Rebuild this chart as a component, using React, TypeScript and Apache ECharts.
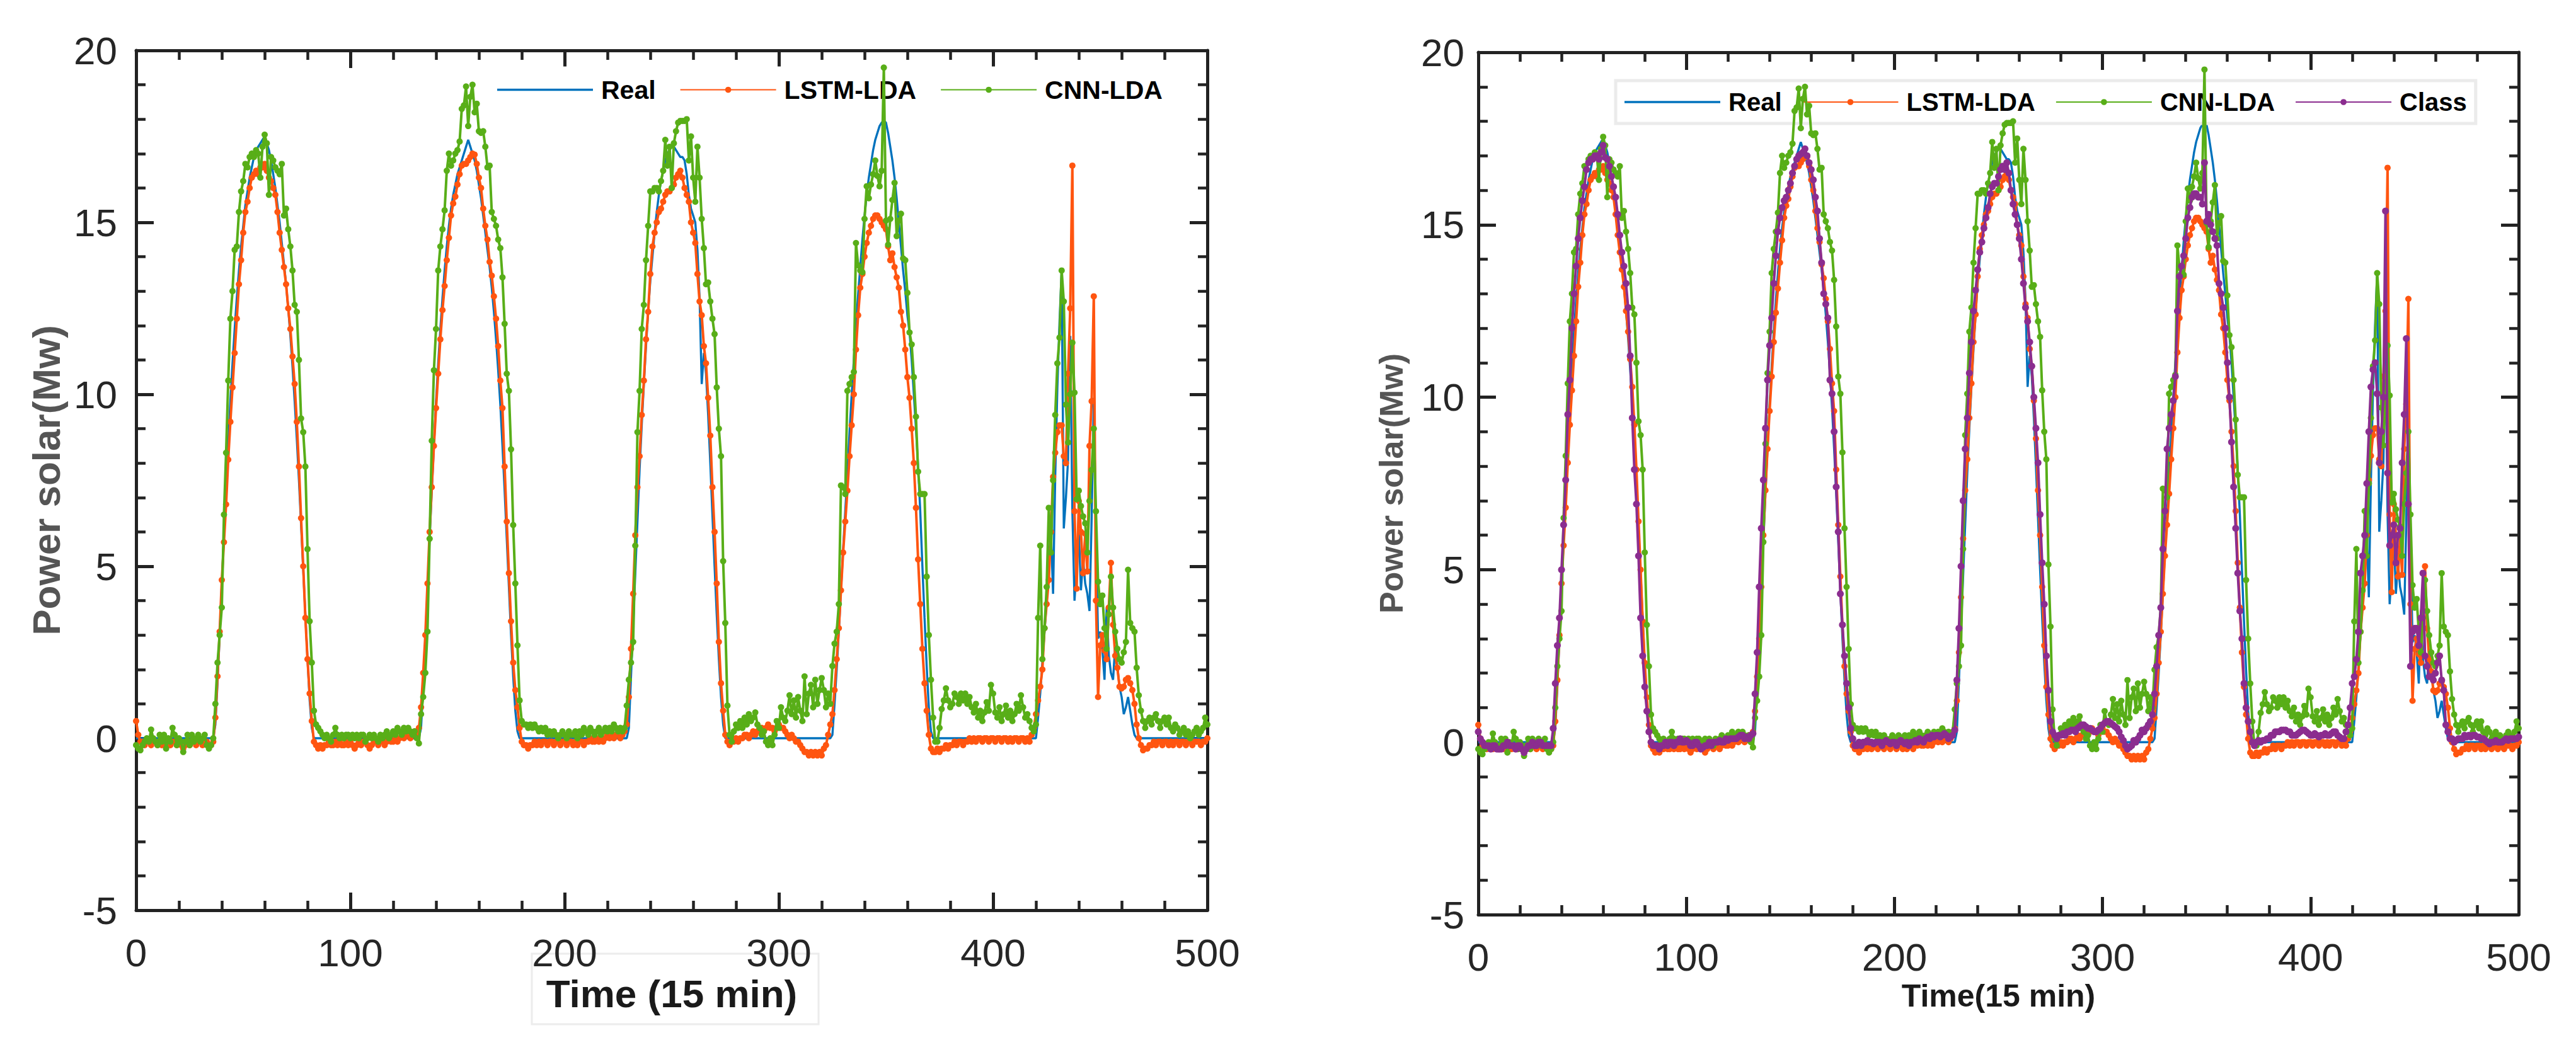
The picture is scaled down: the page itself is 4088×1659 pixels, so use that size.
import { useEffect, useRef } from "react";
import * as echarts from "echarts";

// x axis: time step (15 min), y axis: solar power (Mw)
const X_MIN = 0;
const X_MAX = 500;
const X_STEP = 100;
const Y_MIN = -5;
const Y_MAX = 20;
const Y_STEP = 5;

const seriesNames = ["Real", "LSTM-LDA", "CNN-LDA", "Class"];
const seriesColors = ["#0072BD", "#FF5510", "#58AE18", "#8B2D8F"];

// one value per time step, 0..500
const real = [
  0, 0, 0, 0, 0, 0, 0, 0, 0, 0,
  0, 0, 0, 0, 0, 0, 0, 0, 0, 0,
  0, 0, 0, 0, 0, 0, 0, 0, 0, 0,
  0, 0, 0, 0, 0, 0, 0, 0.4, 1.6, 3.0,
  4.5, 5.9, 7.3, 8.6, 9.8, 10.9, 11.9, 12.8, 13.6, 14.3,
  14.9, 15.5, 15.9, 16.3, 16.6, 16.9, 17.1, 17.2, 17.3, 17.4,
  17.5, 17.3, 17.1, 16.8, 16.4, 16.0, 15.5, 15.0, 14.4, 13.8,
  13.2, 12.5, 11.7, 10.8, 9.8, 8.7, 7.5, 6.2, 4.9, 3.6,
  2.3, 1.1, 0.3, 0, 0, 0, 0, 0, 0, 0,
  0, 0, 0, 0, 0, 0, 0, 0, 0, 0,
  0, 0, 0, 0, 0, 0, 0, 0, 0, 0,
  0, 0, 0, 0, 0, 0, 0, 0, 0, 0,
  0, 0, 0, 0, 0, 0, 0, 0, 0, 0,
  0, 0, 0, 0.3, 1.5, 2.9, 4.3, 5.8, 7.2, 8.5,
  9.8, 10.9, 11.9, 12.8, 13.6, 14.3, 14.9, 15.4, 15.8, 16.1,
  16.4, 16.6, 16.8, 17.0, 17.2, 17.4, 17.2, 17.0, 16.8, 16.5,
  16.1, 15.7, 15.2, 14.7, 14.2, 13.7, 13.1, 12.4, 11.6, 10.7,
  9.7, 8.5, 7.2, 5.8, 4.4, 3.0, 1.8, 0.8, 0.2, 0,
  0, 0, 0, 0, 0, 0, 0, 0, 0, 0,
  0, 0, 0, 0, 0, 0, 0, 0, 0, 0,
  0, 0, 0, 0, 0, 0, 0, 0, 0, 0,
  0, 0, 0, 0, 0, 0, 0, 0, 0, 0,
  0, 0, 0, 0, 0, 0, 0, 0, 0, 0,
  0.3, 1.8, 3.3, 4.8, 6.3, 7.8, 9.1, 10.3, 11.4, 12.4,
  13.3, 14.0, 14.7, 15.3, 15.8, 16.2, 16.5, 16.8, 17.0, 17.1,
  17.2, 17.2, 17.1, 17.0, 16.9, 16.9, 16.8, 16.4, 15.8, 15.4,
  15.2, 15.0, 14.2, 12.8, 10.3, 11.2, 10.6, 9.4, 8.0, 6.5,
  5.0, 3.6, 2.3, 1.2, 0.4, 0, 0, 0, 0, 0,
  0, 0, 0, 0, 0, 0, 0, 0, 0, 0,
  0, 0, 0, 0, 0, 0, 0, 0, 0, 0,
  0, 0, 0, 0, 0, 0, 0, 0, 0, 0,
  0, 0, 0, 0, 0, 0, 0, 0, 0, 0,
  0, 0, 0, 0, 0, 0.1, 1.0, 2.0, 3.1, 4.3,
  5.5, 6.6, 7.7, 8.9, 10.0, 11.0, 12.0, 12.9, 13.7, 14.5,
  15.2, 15.8, 16.3, 16.7, 17.1, 17.4, 17.6, 17.8, 17.9, 17.95,
  17.9, 17.6, 17.2, 16.8, 16.3, 15.7, 15.0, 14.3, 13.6, 13.0,
  12.3, 11.8, 11.0, 10.0, 9.0, 7.9, 6.6, 5.0, 3.5, 2.1,
  0.9, 0.2, 0, 0, 0, 0, 0, 0, 0, 0,
  0, 0, 0, 0, 0, 0, 0, 0, 0, 0,
  0, 0, 0, 0, 0, 0, 0, 0, 0, 0,
  0, 0, 0, 0, 0, 0, 0, 0, 0, 0,
  0, 0, 0, 0, 0, 0, 0, 0, 0, 0,
  0, 0.6, 1.3, 2.2, 3.1, 4.0, 5.3, 6.0, 4.2, 7.6,
  10.2, 12.1, 13.6, 6.1, 7.0, 8.1, 11.7, 6.6, 4.0, 5.0,
  6.0, 4.3, 5.2, 4.5, 4.2, 3.7, 6.4, 9.9, 5.9, 2.9,
  3.1, 2.6, 1.7, 3.8, 2.4, 1.9, 1.7, 2.7, 2.1, 1.5,
  1.2, 0.7, 0.9, 1.2, 0.8, 0.4, 0.1, 0, 0, 0,
  0, 0, 0, 0, 0, 0, 0, 0, 0, 0,
  0, 0, 0, 0, 0, 0, 0, 0, 0, 0,
  0, 0, 0, 0, 0, 0, 0, 0, 0, 0,
  0,
];

const lstmLda = [
  0.5, 0.1, -0.1, -0.1, -0.2, -0.1, -0.1, -0.2, -0.1, -0.1,
  -0.2, -0.1, -0.2, -0.1, -0.1, -0.2, -0.2, -0.1, -0.1, -0.2,
  -0.1, -0.2, -0.3, -0.2, -0.1, -0.2, -0.1, -0.1, -0.2, -0.1,
  -0.1, -0.2, -0.1, -0.1, -0.2, -0.2, -0.1, 0.6, 1.8, 3.1,
  4.6, 5.7, 6.8, 8.1, 9.2, 10.2, 11.2, 12.2, 13.2, 13.9,
  14.7, 15.3, 15.6, 16.0, 16.3, 16.4, 16.5, 16.4, 16.6, 16.6,
  16.7, 16.5, 16.3, 16.2, 16.0, 15.8, 15.3, 14.7, 14.2, 13.7,
  13.2, 12.5, 11.9, 11.1, 10.3, 9.2, 7.9, 6.4, 5.0, 3.5,
  2.3, 1.3, 0.5, -0.1, -0.2, -0.3, -0.2, -0.3, -0.2, -0.2,
  -0.1, -0.2, -0.2, -0.1, -0.2, -0.1, -0.2, -0.2, -0.1, -0.2,
  -0.1, -0.2, -0.3, -0.2, -0.1, -0.2, -0.1, -0.1, -0.2, -0.3,
  -0.2, -0.1, -0.1, -0.2, -0.1, -0.1, -0.2, -0.1, 0, -0.1,
  -0.1, 0, -0.1, 0, 0.1, 0, 0.1, 0.1, 0, 0.1,
  0.2, 0.1, 0.3, 0.9, 1.9, 3.0, 4.5, 6.0, 7.3, 8.5,
  9.6, 10.6, 11.6, 12.45, 13.15, 13.9, 14.55, 15.2, 15.55, 15.75,
  16.1, 16.4, 16.65, 16.7, 16.7, 16.8, 16.9, 17.0, 16.97, 16.7,
  16.3, 16.0, 15.4, 14.9, 14.5, 13.85, 13.45, 12.85, 12.2, 11.4,
  10.4, 9.6, 7.9, 6.3, 4.8, 3.4, 2.2, 1.4, 0.9, 0.3,
  -0.1, -0.2, -0.2, -0.3, -0.2, -0.2, -0.1, -0.2, -0.1, -0.2,
  -0.1, -0.1, -0.2, -0.1, -0.1, -0.2, -0.1, -0.1, -0.2, -0.1,
  -0.1, -0.2, -0.1, -0.1, -0.2, -0.1, -0.2, -0.1, -0.1, -0.2,
  -0.1, -0.1, 0, -0.1, -0.1, 0, -0.1, 0, -0.1, 0,
  0.1, 0, 0.1, 0, 0.1, 0.1, 0, 0.1, 0.2, 0.4,
  1.2, 2.6, 4.2, 5.9, 7.3, 8.2, 9.4, 10.4, 11.6, 12.4,
  13.5, 14.3, 14.7, 15.0, 15.3, 15.4, 15.6, 15.8, 15.9, 15.9,
  16.0, 16.1, 16.3, 16.4, 16.5, 16.3, 16.0, 15.8, 15.6, 15.0,
  14.7, 14.4, 13.5, 12.7, 12.3, 11.4, 10.9, 9.9, 8.8, 7.3,
  6.0, 4.5, 2.8, 1.6, 0.8, 0.1, -0.1, -0.2, -0.1, -0.1,
  0, -0.1, 0, 0, 0.1, 0.1, 0, 0.1, 0.2, 0.1,
  0.2, 0.3, 0.3, 0.2, 0.3, 0.4, 0.3, 0.3, 0.2, 0.3,
  0.4, 0.3, 0.3, 0.2, 0.1, 0, 0.1, 0, -0.1, -0.1,
  -0.2, -0.3, -0.4, -0.4, -0.5, -0.4, -0.5, -0.4, -0.5, -0.4,
  -0.5, -0.3, -0.2, 0.1, 0.4, 0.7, 1.4, 2.3, 3.2, 4.3,
  5.4, 6.3, 7.2, 8.2, 9.1, 10.0, 11.3, 12.3, 13.1, 13.5,
  14.0, 14.4, 14.7, 14.9, 15.1, 15.2, 15.2, 15.1, 15.0, 14.9,
  14.8, 14.3, 13.9, 14.1, 13.7, 13.4, 13.1, 12.4, 12.0, 11.3,
  10.5, 9.9, 9.0, 8.0, 6.7, 5.2, 3.9, 2.6, 1.6, 0.8,
  0.1, -0.3, -0.4, -0.4, -0.3, -0.4, -0.3, -0.3, -0.2, -0.3,
  -0.2, -0.2, -0.1, -0.2, -0.1, -0.1, -0.2, -0.1, -0.1, 0,
  -0.1, 0, -0.1, 0, 0, -0.1, 0, 0, -0.1, 0,
  0, -0.1, 0, 0, -0.1, 0, 0, -0.1, 0, -0.1,
  0, 0, -0.1, 0, 0, -0.1, 0, -0.1, 0.1, 0.3,
  0.7, 1.1, 1.5, 2.0, 3.2, 3.9, 4.6, 6.0, 7.6, 8.3,
  8.9, 9.1, 9.1, 8.2, 8.0, 10.6, 12.5, 16.65, 6.6, 4.35,
  6.9, 6.0, 4.8, 5.95, 4.85, 8.5, 9.8, 12.85, 4.0, 1.2,
  2.7, 3.0, 2.55, 2.3, 3.8, 5.1, 3.3, 2.4, 2.05, 1.5,
  1.45, 1.5, 1.7, 1.75, 1.6, 1.4, 1.0, 0.4, 0, -0.2,
  -0.35, -0.3, -0.3, -0.2, -0.2, -0.1, -0.2, -0.1, -0.1, -0.2,
  -0.1, -0.1, -0.2, -0.1, -0.2, -0.1, -0.1, -0.2, -0.1, -0.1,
  -0.2, -0.1, -0.1, -0.2, -0.1, -0.1, -0.1, -0.2, -0.1, -0.1,
  0,
];

const cnnLda = [
  -0.2, -0.3, -0.35, -0.2, -0.1, 0, -0.1, 0.25, 0, -0.1,
  -0.2, 0.1, -0.1, 0.1, -0.3, 0, -0.1, 0.3, 0.1, -0.2,
  0, -0.1, -0.4, -0.1, 0.1, -0.2, 0.1, -0.1, 0, 0.1,
  -0.1, 0, 0.1, -0.2, -0.3, -0.2, 0, 1.0, 2.2, 3.0,
  3.8, 6.5, 8.3, 10.4, 12.2, 13.0, 14.2, 14.3, 15.3, 15.9,
  16.2, 16.7, 16.6, 16.9, 17.0, 16.9, 17.1, 17.0, 16.3, 17.2,
  17.55, 17.3, 15.8, 16.9, 16.8, 16.6, 16.5, 16.4, 16.7, 15.2,
  15.4, 14.8, 14.3, 13.6, 12.6, 12.4, 11.0, 9.3, 8.9, 7.9,
  5.5, 3.4, 2.2, 0.8, 0.4, 0.3, 0.2, 0.1, 0, 0.1,
  0, -0.1, 0.1, 0.3, 0.1, 0, 0.1, 0, 0.1, 0.1,
  0, 0.1, 0, 0.1, 0, 0.1, 0.1, -0.1, 0, 0.1,
  0, 0.1, 0, -0.1, 0.1, 0, 0.1, 0.2, 0, 0.1,
  0.2, 0.1, 0.3, 0.2, 0.1, 0.3, 0.2, 0.3, 0.2, 0.1,
  0.2, 0, -0.15, 0.7, 1.2, 1.9, 3.1, 5.8, 8.65, 10.7,
  11.9, 13.6, 14.3, 14.8, 15.35, 16.5, 17.0, 16.65, 16.8, 17.0,
  17.1, 17.35, 18.3, 18.4, 18.95, 17.8, 18.65, 19.0, 18.2, 18.45,
  17.65, 17.6, 17.65, 17.2, 16.6, 16.65, 15.3, 15.1, 14.9, 14.5,
  14.25, 13.4, 12.05, 10.6, 10.1, 8.4, 6.2, 4.5, 2.7, 1.1,
  0.5, 0.4, 0.4, 0.3, 0.4, 0.3, 0.4, 0.3, 0.2, 0.3,
  0.2, 0.3, 0.1, 0.2, 0.1, 0.2, 0.1, 0, 0.1, 0.2,
  0.1, 0, 0.2, 0.1, 0.1, 0.2, 0, 0.2, 0.1, 0.3,
  0.2, 0.1, 0.3, 0.2, 0.1, 0.2, 0.3, 0.1, 0.2, 0.3,
  0.2, 0.3, 0.2, 0.4, 0.3, 0.2, 0.3, 0.2, 0.3, 0.95,
  1.7, 2.2, 2.8, 5.6, 8.9, 10.1, 11.9, 12.6, 13.9, 14.9,
  15.9, 15.9, 16.0, 16.0, 15.9, 16.2, 16.5, 17.4, 16.65, 17.2,
  16.0, 17.3, 17.65, 17.9, 17.95, 17.95, 17.95, 18.0, 16.8, 17.5,
  16.3, 15.6, 17.2, 16.3, 15.1, 14.25, 13.2, 13.25, 12.7, 12.2,
  11.75, 10.2, 9.0, 8.2, 5.15, 3.35, 0.95, 0.1, -0.1, 0.2,
  0.4, 0.3, 0.5, 0.3, 0.6, 0.4, 0.7, 0.5, 0.6, 0.75,
  0.4, 0.3, 0.1, 0.2, -0.1, -0.2, 0, -0.2, 0.1, 0.5,
  0.3, 0.9, 0.6, 0.5, 0.8, 1.25, 0.7, 1.1, 0.6, 1.2,
  0.8, 0.5, 1.8, 0.7, 1.3, 1.55, 0.9, 1.7, 1.0, 1.4,
  1.75, 1.4, 0.9, 1.3, 1.0, 2.1, 2.75, 3.1, 3.9, 7.35,
  7.3, 7.1, 10.1, 10.3, 10.5, 10.65, 14.4, 13.75, 13.6, 13.55,
  15.1, 16.05, 15.7, 16.1, 16.4, 16.8, 16.35, 16.05, 16.5, 19.5,
  15.05, 14.35, 15.1, 15.65, 16.15, 14.6, 15.05, 15.25, 13.95, 13.9,
  12.95, 11.8, 11.45, 10.5, 9.35, 7.75, 7.1, 7.1, 7.1, 4.7,
  3.0, 1.7, 0.6, -0.1, -0.1, 0.3, 0.85, 1.1, 1.45, 1.1,
  0.9, 1.0, 1.3, 1.2, 1.0, 1.3, 1.1, 1.3, 1.0, 1.2,
  0.9, 0.75, 1.0, 0.6, 0.8, 0.5, 0.75, 1.05, 0.8, 1.55,
  1.3, 0.75, 0.6, 0.9, 0.5, 0.7, 0.95, 0.6, 0.8, 0.5,
  0.7, 1.0, 0.8, 1.25, 0.9, 0.6, 0.7, 0.5, 0.3, 0.2,
  0.4, 3.5, 5.6, 2.3, 3.2, 4.4, 6.7, 5.4, 7.5, 9.4,
  10.9, 11.65, 13.6, 12.7, 9.7, 8.6, 10.0, 11.5, 10.05, 6.95,
  7.2, 6.75, 6.45, 6.25, 5.4, 6.9, 7.8, 9.0, 6.6, 4.55,
  3.9, 4.15, 3.2, 2.6, 3.6, 4.7, 3.8, 3.1, 2.6, 2.3,
  2.2, 2.5, 2.8, 4.9, 3.35, 3.2, 3.1, 2.05, 1.25, 0.8,
  0.5, 0.3, 0.5, 0.6, 0.4, 0.6, 0.7, 0.5, 0.3, 0.5,
  0.6, 0.4, 0.6, 0.3, 0.2, 0.4, 0.3, 0.1, 0.2, 0.3,
  0.1, 0.2, 0, 0.1, 0.2, 0.3, 0.1, 0.2, 0.3, 0.6,
  0.4,
];

const classModel = [
  0.3, 0.1, 0, -0.1, -0.1, -0.1, -0.2, -0.1, -0.1, -0.2,
  -0.2, -0.2, -0.1, -0.1, 0, -0.1, -0.1, -0.1, -0.2, -0.1,
  -0.1, -0.2, -0.3, -0.2, -0.1, -0.1, 0, -0.1, -0.1, 0,
  0, -0.1, -0.1, -0.1, -0.1, -0.1, 0.4, 1.7, 2.8, 3.6,
  5.0, 6.3, 7.6, 9.5, 10.5, 12.0, 13.0, 13.8, 14.6, 15.2,
  15.7, 16.1, 16.6, 16.8, 16.9, 16.9, 17.0, 17.0, 16.9, 17.1,
  17.3, 16.95, 16.9, 16.7, 16.4, 16.1, 15.8, 15.3, 14.7, 14.2,
  13.8, 13.3, 12.6, 11.2, 9.4, 7.9, 6.9, 5.4, 3.6, 2.5,
  1.6, 0.9, 0.3, 0, -0.1, -0.1, -0.1, -0.2, -0.1, -0.1,
  0, -0.1, 0, 0, -0.1, 0, 0, 0.1, 0, 0,
  0.05, 0, -0.1, -0.1, 0, 0, -0.1, -0.2, -0.15, -0.1,
  -0.1, 0, -0.1, 0, 0, 0, 0.05, 0, 0, 0.1,
  0.05, 0.1, 0.1, 0.1, 0.1, 0.15, 0.2, 0.2, 0.1, 0.15,
  0.1, 0.2, 0.25, 1.4, 2.6, 4.5, 6.2, 7.6, 9.1, 10.5,
  11.5, 12.3, 13.3, 14.1, 14.8, 15.2, 15.5, 15.7, 15.8, 16.0,
  16.2, 16.5, 16.7, 16.9, 17.0, 17.05, 17.1, 17.2, 17.0, 16.8,
  16.6, 16.3, 15.8, 15.4, 14.6, 13.9, 13.0, 12.7, 12.3, 10.5,
  10.1, 9.0, 7.4, 6.1, 4.3, 3.4, 2.5, 1.7, 1.0, 0.4,
  0.1, -0.1, -0.1, 0, -0.1, 0, 0, 0.05, 0, 0,
  -0.05, 0, 0, 0, -0.1, 0, 0.05, 0, -0.05, 0,
  0, -0.1, 0, 0.05, 0, -0.05, 0, -0.1, 0, 0,
  0.05, 0, 0.1, 0.05, 0, 0.1, 0.15, 0.1, 0.2, 0.15,
  0.2, 0.2, 0.15, 0.2, 0.25, 0.2, 0.1, 0.15, 0.2, 0.35,
  1.8, 3.3, 5.1, 7.0, 8.5, 9.4, 10.7, 11.6, 12.5, 13.1,
  13.7, 14.2, 14.5, 14.9, 15.2, 15.5, 15.9, 16.1, 16.2, 16.2,
  16.4, 16.6, 16.7, 16.6, 16.8, 16.5, 16.0, 15.6, 15.3, 15.0,
  14.6, 14.0, 13.3, 12.6, 12.2, 11.6, 10.9, 10.0, 9.1, 8.1,
  6.6, 5.2, 4.0, 2.5, 1.5, 0.6, 0.3, 0.2, 0.1, 0.2,
  0.2, 0.25, 0.2, 0.3, 0.3, 0.35, 0.35, 0.3, 0.4, 0.45,
  0.5, 0.5, 0.45, 0.4, 0.4, 0.35, 0.3, 0.3, 0.35, 0.4,
  0.5, 0.55, 0.6, 0.6, 0.55, 0.5, 0.45, 0.4, 0.3, 0.15,
  0.05, -0.1, -0.2, -0.15, -0.1, 0.05, 0, 0.1, 0.2, 0.35,
  0.3, 0.4, 0.5, 0.6, 0.8, 1.4, 2.2, 3.1, 3.9, 5.6,
  6.7, 8.5, 9.1, 9.5, 9.9, 10.6, 12.5, 13.5, 13.8, 14.1,
  14.6, 15.2, 15.5, 15.8, 15.9, 15.9, 15.8, 15.8, 15.6, 16.8,
  15.1, 15.3, 15.0, 14.8, 14.6, 14.4, 13.3, 13.0, 12.6, 12.0,
  11.0, 10.0, 8.7, 7.4, 6.2, 4.9, 3.8, 3.0, 1.7, 1.0,
  0.6, 0.3, 0, -0.1, 0, 0.05, 0, 0.05, 0.05, 0.1,
  0.1, 0.2, 0.2, 0.3, 0.3, 0.3, 0.35, 0.35, 0.35, 0.3,
  0.3, 0.2, 0.2, 0.2, 0.25, 0.3, 0.35, 0.35, 0.3, 0.25,
  0.2, 0.2, 0.25, 0.2, 0.15, 0.2, 0.2, 0.25, 0.2, 0.2,
  0.25, 0.3, 0.3, 0.2, 0.15, 0.1, 0.1, 0.3, 0.5, 1.0,
  1.7, 1.9, 2.4, 3.2, 4.9, 5.4, 6.0, 7.5, 9.0, 10.3,
  10.8, 11.0, 10.1, 8.1, 9.0, 10.0, 15.4, 7.8, 5.7, 6.0,
  6.3, 5.2, 6.0, 6.2, 8.1, 9.5, 11.7, 6.9, 2.2, 3.2,
  3.3, 3.3, 2.8, 3.6, 4.9, 2.5, 2.2, 1.9, 1.9, 1.8,
  2.0, 2.3, 2.5, 1.8, 1.5, 0.5, 0.3, 0.1, 0.1, 0,
  0.05, 0.1, 0.1, 0.1, 0.2, 0.15, 0.2, 0.15, 0.2, 0.2,
  0.15, 0.15, 0.1, 0.1, 0.05, 0, -0.05, 0, 0, 0.05,
  0, 0, 0, 0.05, 0.1, 0.05, 0.1, 0.1, 0.1, 0.1,
  0.15,
];

const FONT = "'Liberation Sans', Arial, Helvetica, sans-serif";
const AXIS_COLOR = "#222";
// plain line icon for the series drawn without markers
const PLAIN_LINE_ICON = "path://M0,0L152,0L152,3.4L0,3.4Z";

const toPoints = (values: number[]) => values.map((v, i) => [i, v]);

// two side-by-side panels: left without Class, right with it
const panels = [
  {
    grid: { left: 216, top: 80, width: 1700, height: 1365 },
    values: [real, lstmLda, cnnLda],
    xName: "Time (15 min)",
    xNameSize: 62,
    xNameGap: 101,
    // light frame drawn round the left x title
    xNameBox: { x: 844, y: 1514, width: 455, height: 112 },
    yNameSize: 62,
    yNameGap: 112,
    yLabelMargin: 30,
    legend: { left: 775, top: 108, itemGap: 38, fontSize: 41, border: "#fff" },
  },
  {
    grid: { left: 2346, top: 83, width: 1651, height: 1369 },
    values: [real, lstmLda, cnnLda, classModel],
    xName: "Time(15 min)",
    xNameSize: 50,
    xNameGap: 104,
    xNameBox: null,
    yNameSize: 52,
    yNameGap: 112,
    yLabelMargin: 22,
    legend: { left: 2564, top: 128, itemGap: 32, fontSize: 40, border: "#ebebeb" },
  },
];

const baseAxis = {
  type: "value",
  axisLine: { show: true, onZero: false, lineStyle: { color: AXIS_COLOR, width: 5 } },
  axisTick: { show: true, inside: true, length: 28, lineStyle: { color: AXIS_COLOR, width: 5 } },
  minorTick: { show: true, splitNumber: 5, length: 15, lineStyle: { color: AXIS_COLOR, width: 4.5 } },
  splitLine: { show: false },
  minorSplitLine: { show: false },
};

const App = () => {
  const chartRef = useRef<HTMLDivElement>(null);

  useEffect(() => {
    if (!chartRef.current) return;
    const chart = echarts.init(chartRef.current, null, { renderer: "svg" });

    const grids: any[] = [];
    const xAxes: any[] = [];
    const yAxes: any[] = [];
    const legends: any[] = [];
    const series: any[] = [];
    const graphics: any[] = [];

    panels.forEach((p, g) => {
      grids.push({ ...p.grid, containLabel: false });

      const labelStyle = { fontFamily: FONT, fontSize: 62, color: "#262626" };
      xAxes.push({
        ...baseAxis,
        gridIndex: g,
        position: "bottom",
        min: X_MIN,
        max: X_MAX,
        interval: X_STEP,
        axisLabel: { ...labelStyle, margin: 36 },
        name: p.xName,
        nameLocation: "middle",
        nameGap: p.xNameGap,
        nameMoveOverlap: false,
        nameTextStyle: {
          fontFamily: FONT,
          fontSize: p.xNameSize,
          fontWeight: "bold",
          color: "#1a1a1a",
        },
      });
      xAxes.push({
        ...baseAxis,
        gridIndex: g,
        position: "top",
        min: X_MIN,
        max: X_MAX,
        interval: X_STEP,
        axisLabel: { show: false },
      });
      yAxes.push({
        ...baseAxis,
        gridIndex: g,
        position: "left",
        min: Y_MIN,
        max: Y_MAX,
        interval: Y_STEP,
        axisLabel: { ...labelStyle, margin: p.yLabelMargin },
        name: "Power solar(Mw)",
        nameLocation: "middle",
        nameGap: p.yNameGap,
        nameMoveOverlap: false,
        nameTextStyle: {
          fontFamily: FONT,
          fontSize: p.yNameSize,
          fontWeight: "bold",
          color: "#555",
        },
      });
      yAxes.push({
        ...baseAxis,
        gridIndex: g,
        position: "right",
        min: Y_MIN,
        max: Y_MAX,
        interval: Y_STEP,
        axisLabel: { show: false },
      });

      if (p.xNameBox) {
        graphics.push({
          type: "rect",
          shape: p.xNameBox,
          silent: true,
          style: { fill: "none", stroke: "#ececec", lineWidth: 3 },
        });
      }

      const names = seriesNames.slice(0, p.values.length);
      legends.push({
        data: names.map((n, k) => (k === 0 ? { name: n, icon: PLAIN_LINE_ICON } : n)),
        left: p.legend.left,
        top: p.legend.top,
        orient: "horizontal",
        itemWidth: 152,
        itemHeight: 12,
        itemGap: p.legend.itemGap,
        symbolKeepAspect: true,
        padding: [14, 14, 14, 14],
        backgroundColor: "#fff",
        borderColor: p.legend.border,
        borderWidth: 5,
        textStyle: {
          fontFamily: FONT,
          fontSize: p.legend.fontSize,
          fontWeight: "bold",
          color: "#000",
          padding: [0, 0, 0, 8],
        },
      });

      p.values.forEach((vals, k) => {
        series.push({
          name: seriesNames[k],
          type: "line",
          xAxisIndex: g * 2,
          yAxisIndex: g * 2,
          data: toPoints(vals),
          symbol: k === 0 ? "none" : "circle",
          showSymbol: k !== 0,
          symbolSize: k === 3 ? 11 : 10,
          lineStyle: { color: seriesColors[k], width: k === 0 ? 3.4 : 4 },
          itemStyle: { color: seriesColors[k] },
          z: 2 + k,
        });
      });
    });

    chart.setOption({
      animation: false,
      backgroundColor: "#fff",
      grid: grids,
      xAxis: xAxes,
      yAxis: yAxes,
      legend: legends,
      graphic: graphics,
      series,
    });

    return () => {
      chart.dispose();
    };
  }, []);

  return (
    <div
      ref={chartRef}
      style={{ position: "absolute", left: 0, top: 0, width: 4088, height: 1659 }}
    />
  );
};

export default App;
